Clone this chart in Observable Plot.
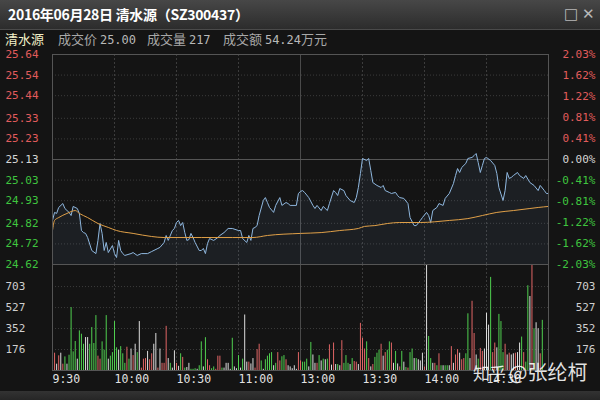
<!DOCTYPE html>
<html><head><meta charset="utf-8">
<script src="https://cdn.jsdelivr.net/npm/d3@7"></script>
<script src="https://cdn.jsdelivr.net/npm/@observablehq/plot@0.6"></script>
<style>
body{margin:0;background:#141414;}
#wrap{position:relative;width:600px;height:400px;overflow:hidden;background:#141414;font-family:"Noto Sans CJK SC",sans-serif;}
#titlebar{position:absolute;left:0;top:0;width:600px;height:29px;background:linear-gradient(#474747,#2c2c2c);border-bottom:1px solid #4a4a4a;}
#title{position:absolute;left:8px;top:4px;color:#fff;font-weight:bold;font-size:14px;letter-spacing:-0.3px;line-height:20px;white-space:nowrap;}
.icon{position:absolute;top:5px;color:#b8b8b8;font-size:15px;line-height:18px;font-family:"DejaVu Sans",sans-serif;}
.info{position:absolute;top:30px;font-size:13px;line-height:18px;color:#a8a8a8;white-space:nowrap;}
.info b{font-weight:normal;font-family:"DejaVu Sans Mono",monospace;font-size:12px;color:#b8b8b8;}
#bottom{position:absolute;left:0;top:391px;width:600px;height:9px;background:linear-gradient(#333,#262626);}
#wm{position:absolute;left:473px;top:359px;color:rgba(255,255,255,0.88);white-space:nowrap;line-height:26px;}
.svgbox{position:absolute;left:0;}
.svgbox svg{overflow:visible;}
</style></head>
<body>
<div id="wrap">
  <div id="titlebar"><div id="title">2016年06月28日 清水源（SZ300437）</div>
    <div class="icon" style="left:564px">□</div><div class="icon" style="left:582px">✕</div></div>
  <div class="info" style="left:5px;color:#f2f0c8;font-size:13px">清水源</div>
  <div class="info" style="left:58px">成交价 <b>25.00</b></div>
  <div class="info" style="left:147px">成交量 <b>217</b></div>
  <div class="info" style="left:223px">成交额 <b>54.24</b>万元</div>
  <div class="svgbox" id="price" style="top:48px"></div>
  <div class="svgbox" id="volume" style="top:258px"></div>
  <div id="bottom"></div>
  <div id="wm"><span style="font-size:17px;letter-spacing:-1px">知乎</span> <span style="font-size:20px">@张纶柯</span></div>
</div>
<script>
// ---- data ----
const prevClose = 25.13;
const priceLabels = ["25.64","25.54","25.44","25.33","25.23","25.13","25.03","24.93","24.82","24.72","24.62"];
const pctLabels = ["2.03%","1.62%","1.22%","0.81%","0.41%","0.00%","-0.41%","-0.81%","-1.22%","-1.62%","-2.03%"];
const volLabels = [703, 527, 352, 176];
const timeTicks = [0, 30, 60, 90, 120, 150, 180, 210];
const timeLabels = ["9:30","10:00","10:30","11:00","13:00","13:30","14:00","14:30"];

const priceMin = [0,1,2,3,5,6,8,9,10,12,13,14,15,16,17,19,21,22,23,24,25,26,27,29,30,31,32,33,34,35,38,39,41,43,46,48,51,52,54,55,56,58,59,60,61,62,63,64,65,66,67,68,69,71,72,73,74,75,76,78,80,81,83,85,87,90,91,92,94,95,96,97,98,99,100,102,103,104,105,107,108,110,111,113,114,115,118,119,120,121,122,124,126,127,128,130,131,133,134,136,137,138,139,141,142,144,146,147,148,149,150,152,153,154,155,157,159,160,161,163,164,166,167,168,170,172,173,175,176,178,179,181,182,183,184,186,187,189,190,192,194,195,196,197,198,200,201,203,204,205,206,207,208,209,210,212,214,215,216,218,219,220,221,222,223,225,226,228,229,231,233,235,236,238,239,240];
const price = [24.834,24.873,24.868,24.897,24.916,24.892,24.873,24.858,24.902,24.892,24.868,24.785,24.775,24.771,24.751,24.688,24.673,24.737,24.819,24.771,24.688,24.727,24.678,24.712,24.673,24.654,24.737,24.688,24.673,24.664,24.673,24.678,24.664,24.673,24.673,24.683,24.698,24.703,24.727,24.761,24.737,24.785,24.795,24.824,24.834,24.809,24.824,24.775,24.737,24.741,24.771,24.751,24.727,24.688,24.688,24.698,24.673,24.722,24.746,24.737,24.751,24.761,24.775,24.795,24.795,24.785,24.785,24.746,24.727,24.761,24.737,24.795,24.800,24.809,24.858,24.931,24.945,24.921,24.897,24.873,24.907,24.945,24.907,24.921,24.916,24.907,24.907,24.965,24.975,24.979,24.970,24.945,24.907,24.892,24.907,24.882,24.902,24.882,24.916,24.979,24.970,24.955,24.989,24.979,24.955,24.931,24.921,24.945,24.994,25.062,25.135,25.125,25.135,25.077,25.018,25.004,24.994,25.004,24.979,24.970,24.965,24.970,24.955,24.945,24.941,24.916,24.848,24.809,24.809,24.834,24.848,24.873,24.858,24.824,24.882,24.897,24.916,24.907,24.941,24.965,25.013,25.052,25.086,25.067,25.091,25.111,25.135,25.140,25.149,25.159,25.115,25.067,25.101,25.135,25.140,25.125,25.101,25.062,24.994,24.931,24.979,25.067,25.038,25.043,25.052,25.067,25.052,25.038,25.052,25.018,25.004,24.979,25.004,24.979,24.965,24.965];

const avgMin = [0,1,3,7,11,13,17,22,27,31,39,48,54,72,87,97,104,120,130,139,148,151,156,162,168,178,192,201,208,215,223,231,235,240];
const avgPrice = [24.785,24.834,24.848,24.868,24.882,24.868,24.848,24.819,24.800,24.785,24.771,24.756,24.751,24.751,24.751,24.751,24.761,24.771,24.775,24.785,24.795,24.805,24.809,24.819,24.824,24.824,24.834,24.843,24.858,24.873,24.882,24.892,24.897,24.902];

// volume per minute (hands) and tick direction: r up, g down, w flat
const volume = [296,145,53,123,145,53,114,53,128,527,156,243,95,332,304,220,276,276,220,360,226,460,120,95,240,170,460,95,120,150,410,190,170,200,140,60,195,95,180,125,220,150,410,20,95,100,160,90,140,220,310,20,180,60,60,370,100,60,20,165,60,35,140,110,20,25,60,10,10,15,10,40,240,30,275,90,40,15,30,10,
120,120,20,20,60,60,10,270,30,15,125,20,95,465,70,70,55,100,20,175,220,80,10,90,120,140,150,40,60,150,80,115,125,90,40,30,15,40,10,150,80,70,70,95,30,235,130,60,60,125,80,95,90,95,215,45,230,50,50,40,250,60,125,60,50,100,75,70,50,395,270,180,240,100,30,50,110,145,170,220,120,
150,170,240,230,60,160,55,30,160,70,25,20,150,180,100,100,90,80,145,30,890,285,100,60,60,40,140,40,40,40,40,40,200,60,130,175,145,90,100,140,475,100,580,310,130,95,185,160,180,480,380,780,150,230,190,470,410,150,220,130,145,130,140,145,150,230,280,150,70,710,620,890,350,400,350,140,420,0,0,0];
const volDir = ["w","r","w","r","w","r","g","w","g","g","g","g","w","g","g","g","w","w","g","g","g","g","r","r","g","g","g","w","g","g","g","g","w","g","g","g","r","g","w","r","w","g","w","r","r","r","w","r","r","w","w","r","w","r","r","r","w","g","w","w","r","w","g","r","g","w","w","g","g","g","w","g","g","w","g","r","r","g","g","r",
"r","r","g","w","w","w","w","g","w","w","g","w","g","w","w","r","w","w","r","r","r","g","w","g","g","g","g","w","g","r","r","g","g","r","w","w","w","w","w","r","r","g","g","g","w","g","w","w","r","g","w","g","w","g","r","w","r","w","g","w","r","g","g","g","w","g","r","r","w","r","r","r","g","r","w","r","g","g","g","r","w",
"r","g","g","r","w","g","w","r","g","w","g","r","g","g","w","g","w","w","w","r","w","g","g","w","r","g","r","g","w","g","g","w","r","w","r","r","w","r","r","g","g","w","r","r","w","g","r","r","w","w","w","g","r","r","w","g","g","g","r","w","r","w","w","r","w","w","g","r","g","g","w","r","g","w","w","r","g","w","w","w"];

// ---- styling ----
const RED = "#e25c5c", GREEN = "#3fc43f", WHITE = "#d6d6d6";
const dirColor = {r: "#e06565", g: "#4fcf4f", w: "#dcdcdc"};
const GRID = "#3c3c3c", FRAME = "#555";
const MONO = "DejaVu Sans Mono";
const labelColor = v => v > prevClose + 0.001 ? RED : v < prevClose - 0.001 ? GREEN : WHITE;

const pricePts = priceMin.map((m, i) => ({m, p: price[i]}));
const avgPts = avgMin.map((m, i) => ({m, p: avgPrice[i]}));
const volPts = volume.map((v, i) => ({m: i, v, c: dirColor[volDir[i]]}));

const common = {width: 600, marginLeft: 52, marginRight: 52, x: {domain: [0, 240], axis: null}, style: {background: "transparent", overflow: "visible"}};

const pricePlot = Plot.plot({
  ...common,
  height: 226, marginTop: 6, marginBottom: 10,
  y: {domain: [24.62, 25.64], axis: null},
  marks: [
    Plot.ruleY(priceLabels.map(Number).filter(v => Math.abs(v - prevClose) > 0.001), {stroke: GRID, strokeDasharray: "1,2"}),
    Plot.ruleX([30, 60, 90, 150, 180, 210], {stroke: GRID, strokeDasharray: "2,2"}),
    Plot.ruleX([120], {stroke: "#4a4a4a"}),
    Plot.ruleY([prevClose], {stroke: "#555"}),
    Plot.areaY(pricePts, {x: "m", y1: 24.62, y2: "p", fill: "#7fa8d8", fillOpacity: 0.08}),
    Plot.line(pricePts, {x: "m", y: "p", stroke: "#8fb7de", strokeWidth: 1}),
    Plot.line(avgPts, {x: "m", y: "p", stroke: "#e0a048", strokeWidth: 1, curve: "monotone-x"}),
    Plot.frame({stroke: FRAME}),
    Plot.text(priceLabels, {y: d => +d, text: d => d, frameAnchor: "left", dx: -47, textAnchor: "start",
      fill: d => labelColor(+d), fontFamily: MONO, fontSize: 11}),
    Plot.text(pctLabels, {y: d => prevClose * (1 + parseFloat(d) / 100), text: d => d, frameAnchor: "right", dx: 47, textAnchor: "end",
      fill: d => labelColor(prevClose * (1 + parseFloat(d) / 100)), fontFamily: MONO, fontSize: 11})
  ]
});
document.getElementById("price").appendChild(pricePlot);

const volPlot = Plot.plot({
  ...common,
  height: 142, marginTop: 6, marginBottom: 30,
  y: {domain: [0, 888], axis: null},
  marks: [
    Plot.ruleY(volLabels, {stroke: GRID, strokeDasharray: "1,2"}),
    Plot.ruleX([30, 60, 90, 150, 180, 210], {stroke: GRID, strokeDasharray: "2,2"}),
    Plot.ruleX([120], {stroke: "#4a4a4a"}),
    Plot.ruleX(volPts, {x: "m", y1: 0, y2: "v", stroke: "c", strokeWidth: 1, clip: true}),
    Plot.frame({stroke: FRAME}),
    Plot.text(volLabels, {y: d => d, text: d => String(d), frameAnchor: "left", dx: -47, textAnchor: "start",
      fill: "#cfcfcf", fontFamily: MONO, fontSize: 11}),
    Plot.text(volLabels, {y: d => d, text: d => String(d), frameAnchor: "right", dx: 47, textAnchor: "end",
      fill: "#cfcfcf", fontFamily: MONO, fontSize: 11}),
    Plot.text(timeLabels, {x: (d, i) => timeTicks[i], text: d => d, frameAnchor: "bottom", dy: 12, textAnchor: "start",
      fill: "#e2e2e2", fontFamily: MONO, fontSize: 11.5})
  ]
});
document.getElementById("volume").appendChild(volPlot);
</script>
</body></html>
